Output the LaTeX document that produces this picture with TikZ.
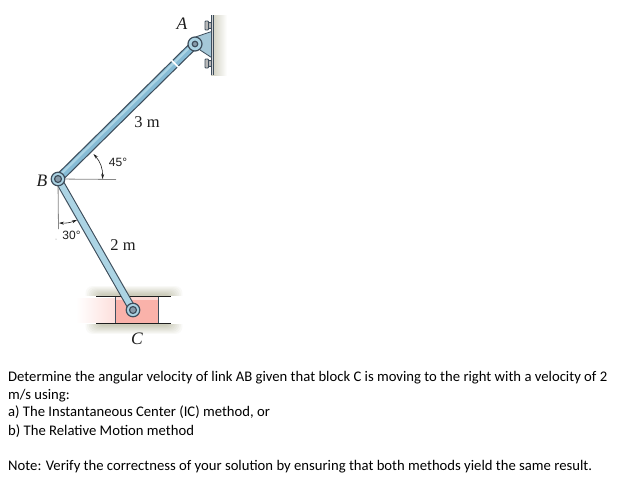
\documentclass[tikz,border=0pt]{standalone}
\usepackage{fontspec}
\setmainfont{Carlito}
\newfontfamily\figserif{Liberation Serif}
\newfontfamily\figsans{Liberation Sans}
\usetikzlibrary{arrows.meta,calc}
\definecolor{linkblue}{RGB}{135,188,214}
\definecolor{linkpale}{RGB}{172,212,228}
\definecolor{linkedge}{RGB}{62,78,92}
\definecolor{blockpink}{RGB}{250,178,170}
\definecolor{gusset}{RGB}{165,200,216}
\definecolor{ink}{RGB}{30,30,30}
\definecolor{thinl}{RGB}{135,135,135}
\definecolor{shadeg}{RGB}{205,205,188}
\definecolor{holec}{RGB}{135,155,170}
\tikzset{
  x=1pt,y=-1pt,
  pinring/.style={circle,draw=linkedge,fill=linkpale,line width=1.2pt,minimum size=13.5pt,inner sep=0pt},
  pinhole/.style={circle,draw=linkedge,fill=holec,line width=1.2pt,minimum size=7pt,inner sep=0pt},
  dim/.style={draw=thinl,line width=.8pt},
  dimarrow/.style={draw=ink,line width=.6pt,{Stealth[length=5pt,width=3pt]}-{Stealth[length=5pt,width=3pt]}},
  serifl/.style={font=\figserif\fontsize{16.5}{16.5}\selectfont,text=ink,inner sep=0pt},
  seriflit/.style={font=\figserif\itshape\fontsize{17.5}{17.5}\selectfont,text=ink,inner sep=0pt},
  angl/.style={font=\figsans\fontsize{12}{12}\selectfont,text=ink,inner sep=0pt},
  prob/.style={font=\fontsize{14.68}{16}\selectfont,text=black,inner sep=0pt,anchor=base west},
  boltnut/.style={draw=linkedge,line width=.9pt,fill=gray!55,rounded corners=.8pt},
}
\begin{document}
\begin{tikzpicture}
\useasboundingbox (0,0) rectangle (642,493);
\fill[white] (0,0) rectangle (642,493);
% wall shadow
\shade[left color=shadeg,right color=white] (211,15) rectangle (227,75);
% anchors
\coordinate (pA) at (195,44);
\coordinate (pB) at (58,179);
\coordinate (pC) at (133,310);
% slot shadow: nested soft steps
\foreach \i in {0,...,8}{
  \pgfmathsetmacro{\tint}{int(\i*12.5)}
  \fill[shadeg!\tint!white,rounded corners=7pt]
    ({84+\i*1.6},{285+\i*1.1}) rectangle ({184-\i*1.6},{335-\i*1.1});
}
\fill[white] (80,296) rectangle (188,323.5);
\shade[left color=white,right color=blockpink!42] (76,298) rectangle (116,322);
% block
\fill[blockpink] (115.5,296) rectangle (158.5,323);
\fill[blockpink!50!white] (115.5,296) rectangle (158.5,299.5);
\draw[linkedge,line width=.9pt] (115.5,296) -- (115.5,323) (158.5,296) -- (158.5,323);
\draw[ink,line width=.9pt] (96,296) -- (171,296) (96,323.5) -- (171,323.5);
% bolts
\draw[boltnut] (205,21) rectangle (208.5,30);
\draw[boltnut] (205,59) rectangle (208.5,68);
\draw[boltnut] (208.5,22.5) rectangle (211.5,28.5);
\draw[boltnut] (208.5,60.5) rectangle (211.5,66.5);
% gusset plate
\draw[linkedge,line width=.8pt,fill=gusset] (196,36.8) -- (211.5,31.5) -- (211.5,57.5) -- (200,50) -- cycle;
\fill[gray!35] (211.2,15) rectangle (213,75);
\draw[linkedge,line width=.8pt] (213,15) -- (213,75);
\draw[linkedge,line width=.6pt] (211.2,15) -- (211.2,75);
% links
\draw[line width=9pt,linkedge] (pA) -- (pB);
\draw[line width=6.6pt,linkblue] (pA) -- (pB);
\draw[line width=2.2pt,linkpale] ($(pA)+(-1,-1)$) -- ($(pB)+(-1,-1)$);
\draw[line width=8pt,linkedge] (pB) -- (pC);
\draw[line width=5.8pt,linkpale] (pB) -- (pC);
% break mark
\draw[white,line width=1.5pt] ($(pA)!.146!(pB)+(-4.6,-4.6)$) -- ($(pA)!.146!(pB)+(4.6,4.6)$);
% pins
\node[pinring,minimum size=14pt] (A) at (pA) {};
\node[pinhole,minimum size=5.5pt] at (pA) {};
\node[pinring] (B) at (pB) {};
\node[pinhole] at (pB) {};
\node[pinring] (C) at (pC) {};
\node[pinhole] at (pC) {};
% dimension lines
\coordinate (hEnd) at (116,179.5);
\coordinate (vEnd) at (58.5,229);
\coordinate (speck) at (56,239);
\draw[dim] (B) -- (hEnd);
\draw[dim] (B) -- (vEnd);
\fill[thinl] (speck) circle (.5);
\coordinate (ang1a) at (93.5,154);
\coordinate (ang1b) at (102.5,179);
\coordinate (ang2a) at (59,223);
\coordinate (ang2b) at (77,220);
\draw[dimarrow] (ang1a) to[bend left=22] (ang1b);
\draw[dimarrow] (ang2a) to[bend right=12] (ang2b);
% labels
\node[seriflit] (labA) at (182,24) {A};
\node[seriflit] (labB) at (42,181) {B};
\node[seriflit] (labC) at (137,339) {C};
\node[serifl] (l3) at (147,122) {3 m};
\node[serifl] (l2) at (123,245) {2 m};
\node[angl] (a45) at (118,162) {45°};
\node[angl] (a30) at (71.5,235) {30°};
% problem text
\node[prob] (t1) at (8,381) {Determine the angular velocity of link AB given that block C is moving to the right with a velocity of 2};
\node[prob] (t2) at (8,399) {m/s using:};
\node[prob] (t3) at (8,416) {a) The Instantaneous Center (IC) method, or};
\node[prob] (t4) at (8,435) {b) The Relative Motion method};
\node[prob] (t5) at (8,470) {Note: Verify the correctness of your solution by ensuring that both methods yield the same result.};
\end{tikzpicture}
\end{document}
